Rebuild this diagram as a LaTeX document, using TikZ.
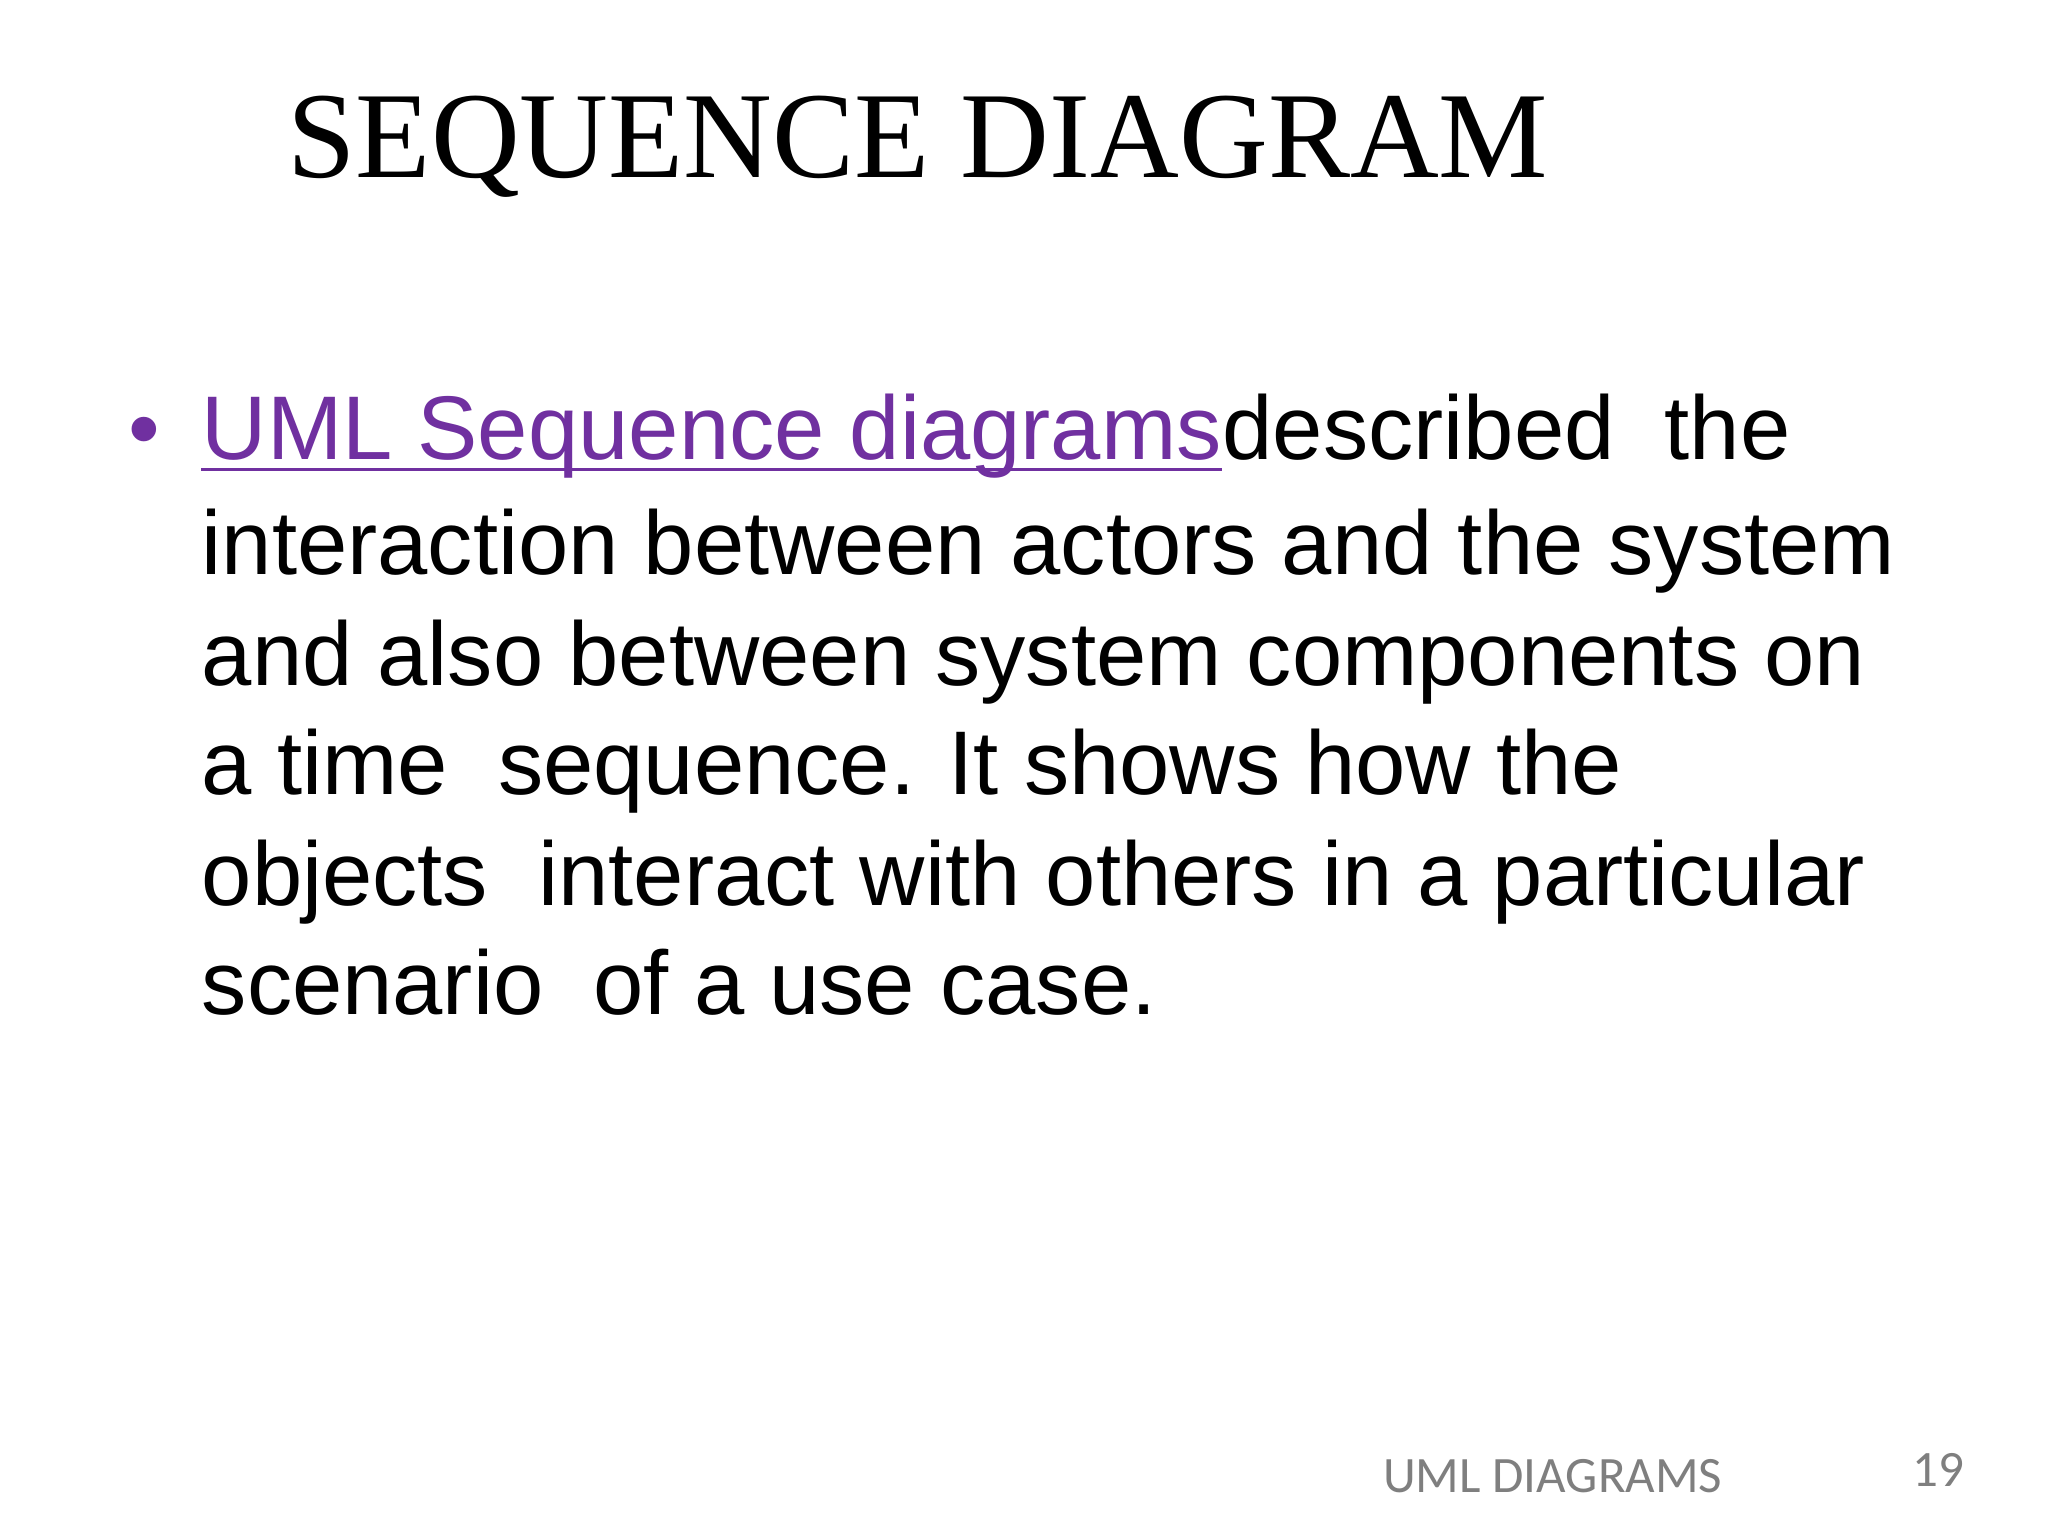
\documentclass[tikz,border=0pt]{standalone}
\usepackage{fontspec}
\setmainfont{Liberation Serif}
\newfontfamily\bodyf{Liberation Sans}
\newfontfamily\footf{Carlito}
\definecolor{linkpurple}{HTML}{7030A0}
\definecolor{footgray}{HTML}{7F7F7F}
\begin{document}
\begin{tikzpicture}[x=1pt,y=1pt,
  body/.style={anchor=base west,inner sep=0pt,font=\bodyf\fontsize{45.2}{55}\selectfont},
  foot/.style={anchor=base west,inner sep=0pt,text=footgray,font=\footf\fontsize{25.5}{30}\selectfont}]
\useasboundingbox (0,0) rectangle (1024,768);
\fill[white] (0,0) rectangle (1024,768);
\node[anchor=base west,inner sep=0pt,font=\fontsize{61.5}{66}\selectfont] (title) at (143.6,679) {SEQUENCE DIAGRAM};
\node[body,text=linkpurple] (bul) at (64,538.2) {•};
\node[body,text=linkpurple] (link) at (100.7,538.2) {UML Sequence diagrams\ };
\node[body] (l1) at (link.base east) {described\ \ the};
\draw[linkpurple,line width=1.6pt] ([yshift=-5pt]link.base west) -- ([yshift=-5pt]link.base east);
\node[body] (l2) at (100.7,480.7) {interaction between actors and the system};
\node[body] (l3) at (100.7,425.4) {and also between system components on};
\node[body] (l4) at (100.7,370.7) {a time\ \ sequence. It shows how the};
\node[body] (l5) at (100.7,315.4) {objects\ \ interact with others in a particular};
\node[body] (l6) at (100.7,260.8) {scenario\ \ of a use case.};
\node[foot] (ft) at (691.4,22) {UML DIAGRAMS};
\node[foot] (pg) at (956,25) {19};
\end{tikzpicture}
\end{document}
